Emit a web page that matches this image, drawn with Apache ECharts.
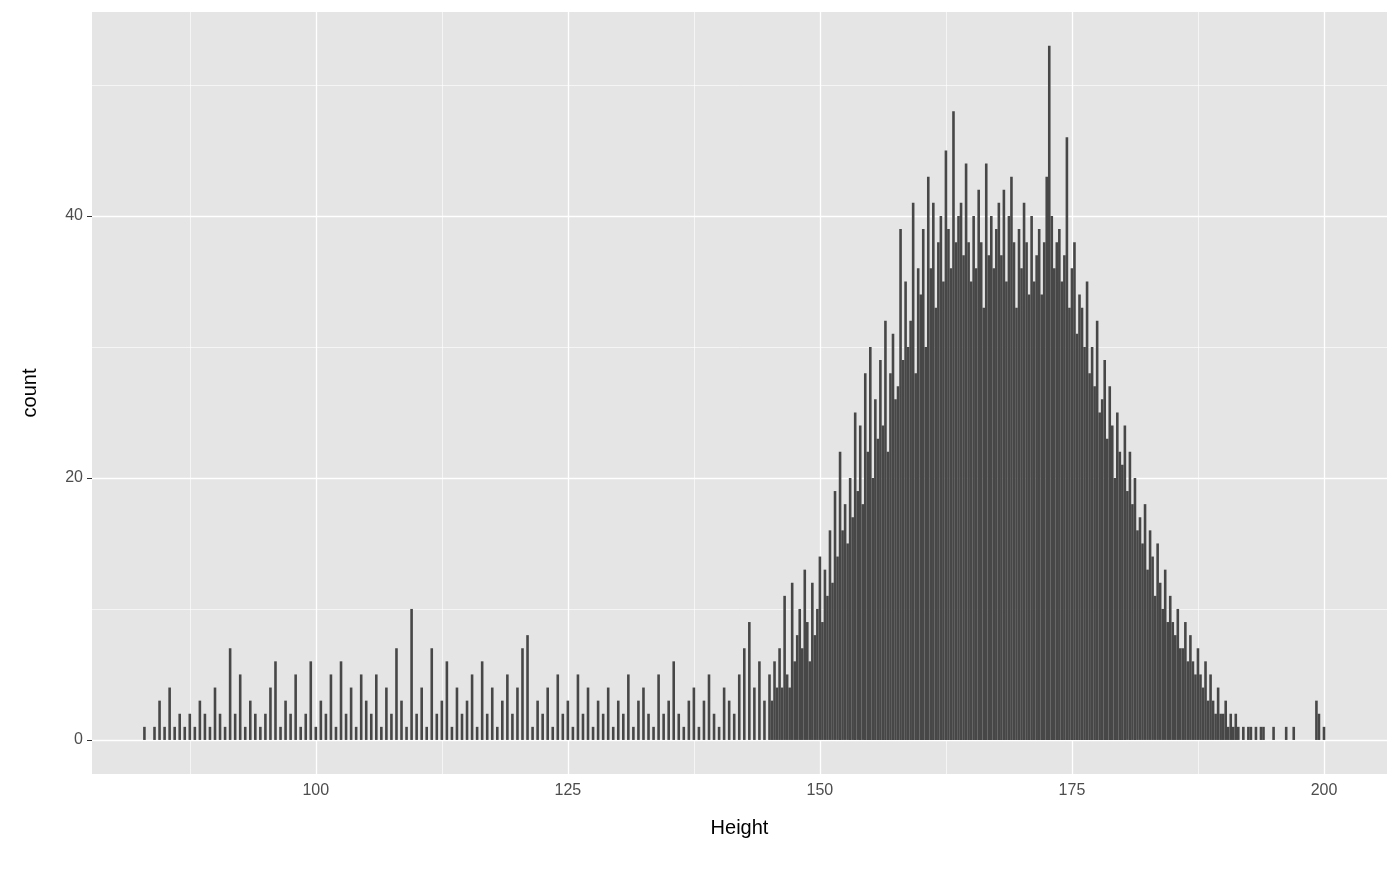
<!DOCTYPE html>
<html><head><meta charset="utf-8">
<script src="https://cdn.jsdelivr.net/npm/echarts@6/dist/echarts.min.js"></script>
<style>html,body{margin:0;padding:0;background:#fff}#c{width:1400px;height:872px}</style>
</head><body><div id="c"></div>
<script>
// Low region: heights 83.0 .. 144.5, step 0.5
const lowStart = 83.0, lowStep = 0.5;
const lowCounts = [
1,0,1,3,1,4,1,2,1,2,1,3,
2,1,4,2,1,7,2,5,1,3,2,1,
2,4,6,1,3,2,5,1,2,6,1,3,
2,5,1,6,2,4,1,5,3,2,5,1,
4,2,7,3,1,10,2,4,1,7,2,3,
6,1,4,2,3,5,1,6,2,4,1,3,
5,2,4,7,8,1,3,2,4,1,5,2,
3,1,5,2,4,1,3,2,4,1,3,2,
5,1,3,4,2,1,5,2,3,6,2,1,
3,4,1,3,5,2,1,4,3,2,5,7,
9,4,6,3];
// Dense region: heights 145.0 .. 200.0, step 0.25
const highStart = 145.0, highStep = 0.25;
const highCounts = [
5,3,6,4, 7,4,11,5, 4,12,6,8, 10,7,13,9, 6,12,8,10,
14,9,13,11, 16,12,19,14, 22,16,18,15, 20,17,25,19, 24,18,28,22,
30,20,26,23, 29,24,32,22, 28,31,26,27, 39,29,35,30, 32,41,28,36,
34,39,30,43, 36,41,33,38, 40,35,45,39, 36,48,38,40, 41,37,44,38,
35,40,36,42, 38,33,44,37, 40,36,39,41, 37,42,35,40, 43,38,33,39,
36,41,38,34, 40,35,37,39, 34,38,43,53, 40,36,38,39, 35,37,46,33,
36,38,31,34, 33,30,35,28, 30,27,32,25, 26,29,23,27, 24,20,25,22,
21,24,19,22, 18,20,16,17, 15,18,13,16, 14,11,15,12, 10,13,9,11,
9,8,10,7, 7,9,6,8, 6,5,7,5, 4,6,3,5, 3,2,4,2,
2,3,1,2, 1,2,1,0, 1,0,1,1, 0,1,0,1, 1,0,0,0,
1,0,0,0, 0,1,0,0, 1,0,0,0, 0,0,0,0, 0,3,2,0, 1];
const xTicks = [100,125,150,175,200];
const xMinor = [87.5,112.5,137.5,162.5,187.5];
const yTicks = [0,20,40];
const yMinor = [10,30,50];

const data = [];
lowCounts.forEach((c,i)=>{ if(c>0) data.push([lowStart+i*lowStep,c]); });
highCounts.forEach((c,i)=>{ if(c>0) data.push([highStart+i*highStep,c]); });

const ml = [];
xMinor.forEach(v=>ml.push({xAxis:v,lineStyle:{width:0.6}}));
xTicks.forEach(v=>ml.push({xAxis:v,lineStyle:{width:1.3}}));
yMinor.forEach(v=>ml.push({yAxis:v,lineStyle:{width:0.6}}));
yTicks.forEach(v=>ml.push({yAxis:v,lineStyle:{width:1.3}}));

const chart = echarts.init(document.getElementById('c'));
chart.setOption({
  animation:false,
  grid:{left:92,right:13,top:12,bottom:98,show:true,backgroundColor:'#e5e5e5',borderWidth:0},
  xAxis:{type:'value',min:77.8,max:206.25,
    name:'Height',nameLocation:'middle',nameGap:44,nameTextStyle:{fontSize:20,color:'#000',fontFamily:'Liberation Sans'},
    axisLine:{show:false},splitLine:{show:false},
    axisTick:{customValues:xTicks,length:5,lineStyle:{color:'#333'}},
    axisLabel:{customValues:xTicks,fontSize:16,color:'#4d4d4d',margin:9,fontFamily:'Liberation Sans'}},
  yAxis:{type:'value',min:-2.6,max:55.57,
    name:'count',nameLocation:'middle',nameGap:52,nameRotate:90,nameTextStyle:{fontSize:20,color:'#000',fontFamily:'Liberation Sans'},
    axisLine:{show:false},splitLine:{show:false},
    axisTick:{customValues:yTicks,length:5,lineStyle:{color:'#333'}},
    axisLabel:{customValues:yTicks,fontSize:16,color:'#4d4d4d',margin:9,fontFamily:'Liberation Sans'}},
  series:[
    {type:'line',data:[],silent:true,markLine:{silent:true,symbol:'none',label:{show:false},lineStyle:{color:'#fff',type:'solid'},data:ml},z:1},
    {type:'bar',data:data,barWidth:2.6,itemStyle:{color:'#474747'},zlevel:1,silent:true}
  ]
});
</script></body></html>
